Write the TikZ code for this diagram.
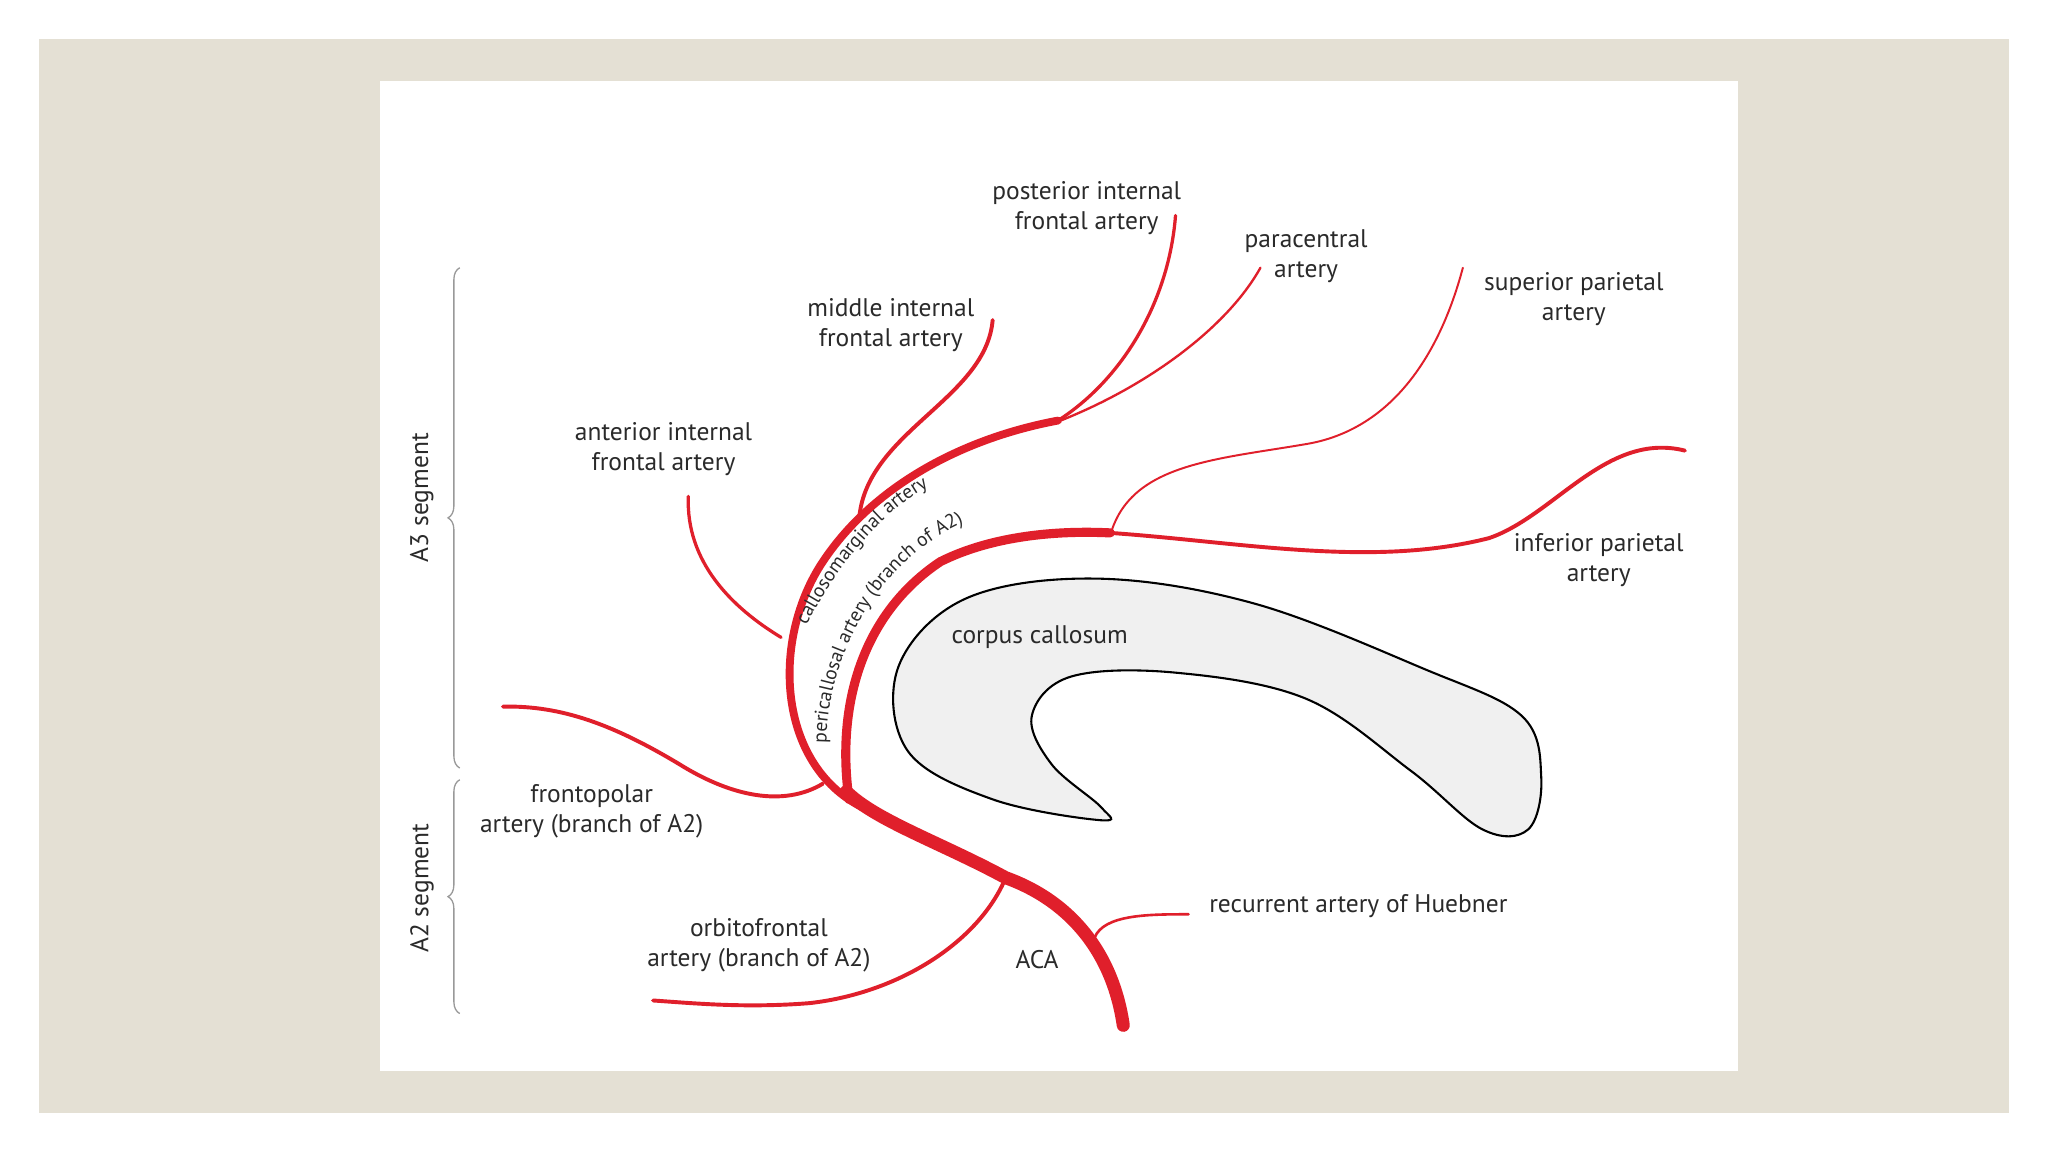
\documentclass[tikz,border=0pt]{standalone}
\usepackage{fontspec}
\setmainfont{PT Sans}
\usetikzlibrary{decorations.pathreplacing,decorations.text}
\definecolor{bg}{HTML}{E4E0D4}
\definecolor{art}{HTML}{E01F2B}
\definecolor{txt}{HTML}{2A2A2A}
\begin{document}
\begin{tikzpicture}[x=1pt,y=-1pt,
  lab/.style={font=\fontsize{19.5}{23}\selectfont,text=txt,align=center},
  vessel/.style={draw=art,line cap=round,line join=round},
  brc/.style={draw=gray!80,line width=1pt,decorate,decoration={brace,amplitude=9pt}}]
\useasboundingbox (0,0) rectangle (1568,882);
\fill[white] (0,0) rectangle (1568,882);
\fill[bg] (30,30) rectangle (1538,852);
\fill[white] (291,62) rectangle (1331,820);
% corpus callosum
\draw[fill=black!6,line width=1.6pt] plot[smooth cycle,tension=0.6] coordinates{
 (843,628) (760,612) (695,575) (688,510) (740,458) (840,443) (960,462) (1090,512) (1165,548) (1180,595) (1170,635) (1135,635) (1080,590) (1000,535) (900,515) (820,518) (790,548) (805,585) (843,618)};
% main vessels
\draw[vessel,line width=10pt] (860,785) .. controls (852,730) and (820,690) .. (770,672) .. controls (720,645) and (670,628) .. (648,606);
\draw[vessel,line width=7pt] (650,612) .. controls (640,540) and (660,470) .. (720,430) .. controls (760,410) and (810,406) .. (850,408);
\draw[vessel,line width=6pt] (660,618) .. controls (595,585) and (590,490) .. (630,430) .. controls (670,370) and (740,335) .. (810,322);
% branches
\draw[vessel,line width=3pt] (850,408) .. controls (950,415) and (1050,435) .. (1140,412) .. controls (1190,395) and (1230,330) .. (1290,345);
\draw[vessel,line width=1.5pt] (850,410) .. controls (865,355) and (930,352) .. (1000,340) .. controls (1060,330) and (1100,280) .. (1120,205);
\draw[vessel,line width=2.5pt] (810,322) .. controls (860,290) and (895,230) .. (900,165);
\draw[vessel,line width=1.8pt] (812,322) .. controls (880,295) and (940,250) .. (965,205);
\draw[vessel,line width=3pt] (658,395) .. controls (665,330) and (755,305) .. (760,245);
\draw[vessel,line width=2.5pt] (598,488) .. controls (560,465) and (525,430) .. (527,380);
\draw[vessel,line width=3pt] (630,600) .. controls (600,618) and (560,610) .. (520,585) .. controls (470,555) and (430,540) .. (385,541);
\draw[vessel,line width=3pt] (770,672) .. controls (750,720) and (690,760) .. (620,768) .. controls (570,772) and (530,768) .. (500,766);
\draw[vessel,line width=2pt] (838,718) .. controls (845,700) and (880,700) .. (910,700);
% curved labels
\path[decorate,decoration={text along path,text align=center,text={|\fontsize{15}{17}\selectfont\color{txt}|callosomarginal artery}}] (610,494) .. controls (640,430) and (682,382) .. (726,366);
\path[decorate,decoration={text along path,text align=center,text={|\fontsize{15}{17}\selectfont\color{txt}|pericallosal artery (branch of A2)}}] (633,582) .. controls (628,500) and (680,418) .. (750,396);
% labels
\node[lab] (pif) at (832,159) {posterior internal\\frontal artery};
\node[lab] (pc) at (1000,196) {paracentral\\artery};
\node[lab] (sp) at (1205,229) {superior parietal\\artery};
\node[lab] (mif) at (682,249) {middle internal\\frontal artery};
\node[lab] (aif) at (508,344) {anterior internal\\frontal artery};
\node[lab] (ip) at (1224,429) {inferior parietal\\artery};
\node[lab] (cc) at (796,488) {corpus callosum};
\node[lab] (fp) at (453,621) {frontopolar\\artery (branch of A2)};
\node[lab] (of) at (581,724) {orbitofrontal\\artery (branch of A2)};
\node[lab] (rah) at (1040,694) {recurrent artery of Huebner};
\node[lab] (aca) at (794,735) {ACA};
% brackets
\coordinate (a3t) at (352,205); \coordinate (a3b) at (352,588);
\coordinate (a2t) at (352,597); \coordinate (a2b) at (352,776);
\draw[brc] (a3b) -- (a3t);
\draw[brc] (a2b) -- (a2t);
\node[lab,rotate=90] (a3) at (323,381) {A3 segment};
\node[lab,rotate=90] (a2) at (323,680) {A2 segment};
\end{tikzpicture}
\end{document}
